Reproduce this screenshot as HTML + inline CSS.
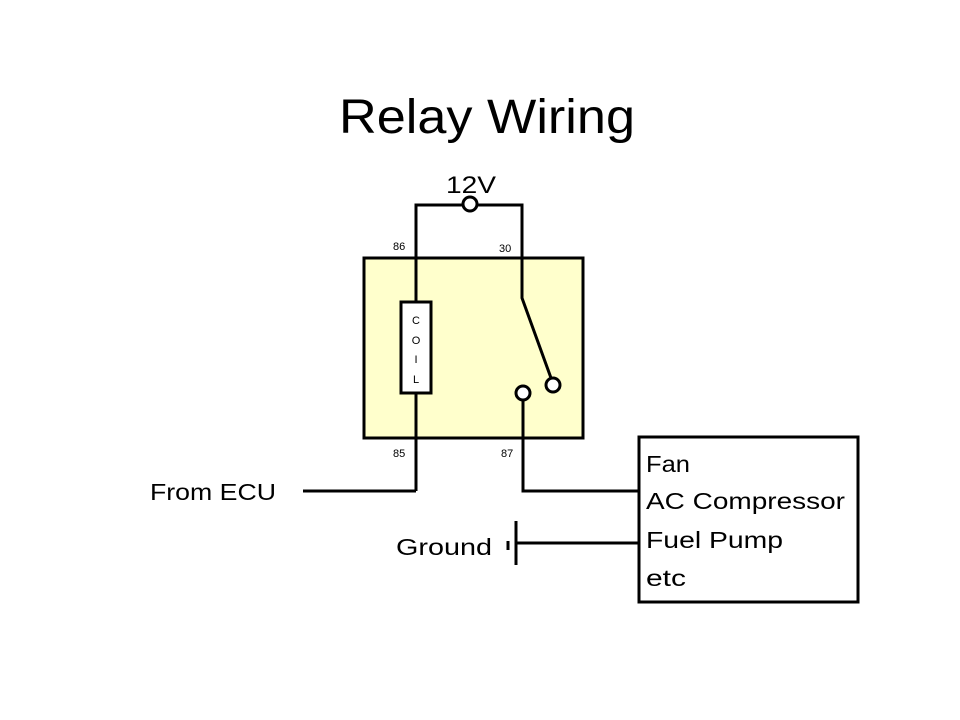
<!DOCTYPE html>
<html><head><style>html,body{margin:0;padding:0;background:#fff;}svg{display:block}</style></head>
<body>
<svg width="960" height="720" xmlns="http://www.w3.org/2000/svg" font-family="'Liberation Sans', sans-serif">
<rect width="960" height="720" fill="#fff"/>
<text x="339" y="133" font-size="48" textLength="296" lengthAdjust="spacingAndGlyphs">Relay Wiring</text>
<text x="446" y="193" font-size="24" textLength="50" lengthAdjust="spacingAndGlyphs">12V</text>
<g stroke="#000" stroke-width="3" fill="none">
<rect x="364" y="258" width="219" height="180" fill="#ffffcc"/>
<polyline points="416,302 416,205 522,205 522,298 551,378"/>
<line x1="416" y1="393" x2="416" y2="491"/>
<line x1="416" y1="491" x2="303" y2="491"/>
<polyline points="523,400 523,491 640,491"/>
<rect x="401" y="302" width="30" height="91" fill="#fff"/>
<circle cx="470" cy="204" r="7" fill="#fff"/>
<circle cx="553" cy="385" r="7" fill="#fff"/>
<circle cx="523" cy="393" r="7" fill="#fff"/>
<line x1="516" y1="521" x2="516" y2="565"/>
<line x1="508" y1="541" x2="508" y2="550"/>
<line x1="516" y1="543" x2="640" y2="543"/>
<rect x="639" y="437" width="219" height="165" fill="#fff"/>
</g>
<g font-size="11" text-anchor="middle">
<text x="416" y="324">C</text><text x="416" y="344">O</text><text x="416" y="363">I</text><text x="416" y="383">L</text>
</g>
<g font-size="11">
<text x="393" y="250">86</text><text x="499" y="252">30</text>
<text x="393" y="457">85</text><text x="501" y="457">87</text>
</g>
<text x="150" y="500" font-size="23" textLength="126" lengthAdjust="spacingAndGlyphs">From ECU</text>
<text x="396" y="555" font-size="23" textLength="96" lengthAdjust="spacingAndGlyphs">Ground</text>
<g font-size="23">
<text x="646" y="472" textLength="44" lengthAdjust="spacingAndGlyphs">Fan</text>
<text x="646" y="509" textLength="199" lengthAdjust="spacingAndGlyphs">AC Compressor</text>
<text x="646" y="548" textLength="137" lengthAdjust="spacingAndGlyphs">Fuel Pump</text>
<text x="646" y="586" textLength="40" lengthAdjust="spacingAndGlyphs">etc</text>
</g>
</svg>
</body></html>
